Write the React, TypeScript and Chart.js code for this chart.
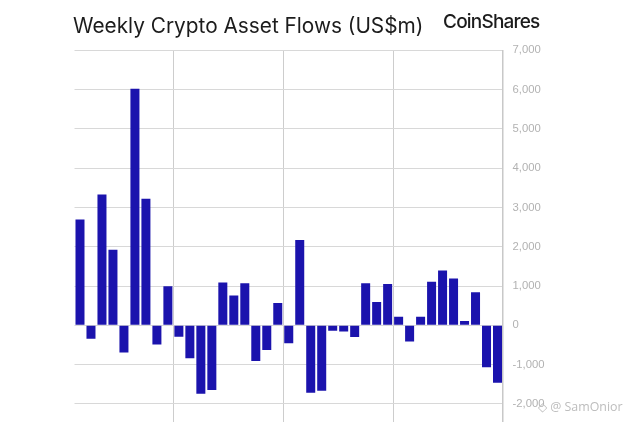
import React, { useEffect, useRef } from "react";
import { Chart, registerables } from "chart.js";

Chart.register(...registerables);

const flows = [
  2690, -340, 3330, 1920, -690, 6020, 3220, -490, 995, -290, -840, -1740, -1650,
  1090, 760, 1070, -910, -630, 570, -460, 2170, -1715, -1665, -140, -160, -300,
  1070, 590, 1050, 220, -410, 220, 1110, 1395, 1190, 110, 840, -1070, -1460,
];
const weeks = flows.map((_, i) => `W${i + 1}`);
const tickValues = [7000, 6000, 5000, 4000, 3000, 2000, 1000, 0, -1000, -2000];
const titleText = "Weekly Crypto Asset Flows (US$m)";
const brandText = "CoinShares";
const watermarkText = "◇ @ SamOnior";

export default function App() {
  const ref = useRef<HTMLCanvasElement>(null);
  useEffect(() => {
    const chart = new Chart(ref.current!, {
      type: "bar",
      data: {
        labels: weeks,
        datasets: [
          {
            data: flows,
            backgroundColor: "#1b13ad",
            barPercentage: 0.82,
            categoryPercentage: 1,
          },
        ],
      },
      options: {
        animation: false,
        responsive: false,
        devicePixelRatio: 1,
        layout: { autoPadding: false, padding: { left: 74.5, right: 0, top: 50.3, bottom: 0 } },
        plugins: {
          legend: { display: false },
          tooltip: { enabled: false },
          title: { display: false },
        },
        scales: {
          x: {
            afterFit: (axis: any) => {
              axis.height = 0;
            },
            grid: {
              offset: true,
              drawTicks: false,
              tickLength: 0,
              lineWidth: 1,
              color: (c: any) => (c.index % 10 === 9 ? "#cdcdcd" : "rgba(0,0,0,0)"),
            },
            border: { display: false },
            ticks: { display: false, autoSkip: false },
          },
          y: {
            position: "right",
            min: -2480,
            max: 7000,
            afterBuildTicks: (axis: any) => {
              axis.ticks = tickValues.map((value) => ({ value }));
            },
            afterFit: (axis: any) => {
              axis.width = 129;
            },
            grid: { drawTicks: false, tickLength: 0, color: "#d8d8d8", lineWidth: 1 },
            border: { display: true, color: "#c8c8c8", width: 1.5 },
            ticks: {
              padding: 9.5,
              color: "#b2b2b2",
              font: { family: "Liberation Sans", size: 11.3 },
              callback: (v: any) => Number(v).toLocaleString("en-US"),
            },
          },
        },
      },
    } as any);
    return () => chart.destroy();
  }, []);

  return (
    <div style={{ position: "absolute", left: 0, top: 0, width: 632, height: 422, overflow: "hidden", background: "#fff" }}>
      <canvas ref={ref} width={632} height={439} style={{ display: "block" }} />
      <div style={{ position: "absolute", left: 73, top: 13, font: "400 20.8px Inter", color: "#1c1c1c", whiteSpace: "nowrap" }}>
        {titleText}
      </div>
      <div style={{ position: "absolute", left: 443, top: 10, font: "500 19px Inter", letterSpacing: -0.8, color: "#1c1c1c", whiteSpace: "nowrap" }}>
        {brandText}
      </div>
      <div style={{ position: "absolute", left: 538, top: 398, font: "12.4px 'Open Sans'", color: "#bdbdbd", whiteSpace: "nowrap" }}>
        {watermarkText}
      </div>
    </div>
  );
}
